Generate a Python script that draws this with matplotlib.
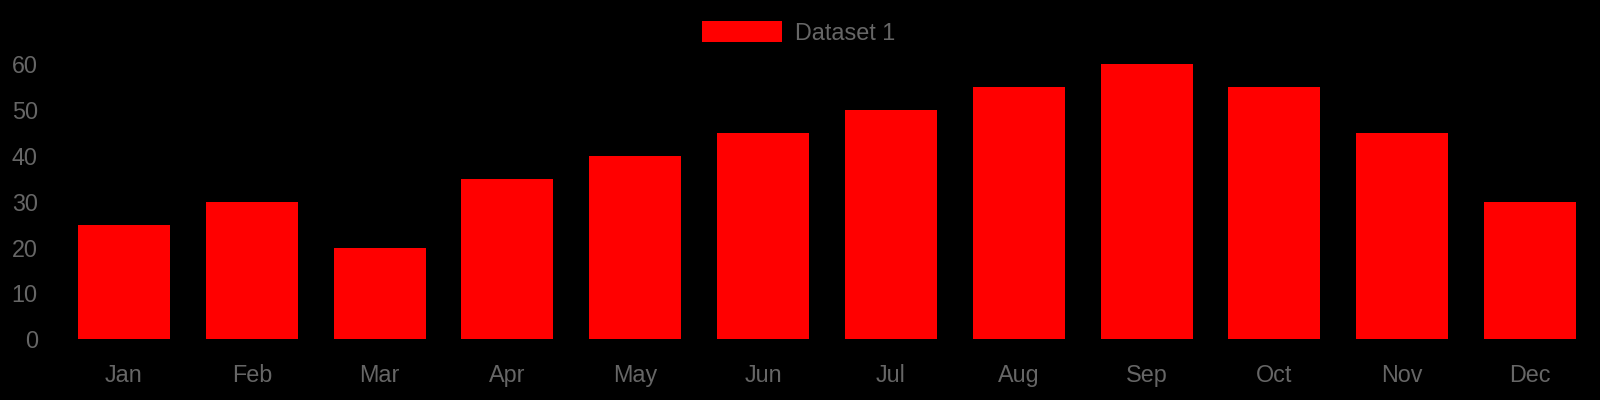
import matplotlib as mpl
mpl.use("Agg")
import matplotlib.pyplot as plt
import numpy as np

months = ["Jan", "Feb", "Mar", "Apr", "May", "Jun",
          "Jul", "Aug", "Sep", "Oct", "Nov", "Dec"]
values = [25, 30, 20, 35, 40, 45, 50, 55, 60, 55, 45, 30]
yticks = [0, 10, 20, 30, 40, 50, 60]

plt.rcParams['font.family'] = ['Liberation Sans', 'DejaVu Sans']
fs = 16.8

fig = plt.figure(figsize=(16, 4), dpi=100, facecolor="black")
ax = fig.add_axes([60/1600, 60.7/400, 1534/1600, 275.3/400])
ax.set_facecolor("black")

x = np.arange(len(months))
bars = ax.bar(x, values, width=0.72, color="#ff0000", label="Dataset 1")

ax.set_xlim(-0.5, len(months) - 0.5)
ax.set_ylim(0, 60)
ax.set_xticks(x)
ax.set_xticklabels(months)
ax.set_yticks(yticks)
ax.tick_params(axis="both", length=0, colors="#666666", labelsize=fs)
ax.tick_params(axis="x", pad=18)
ax.tick_params(axis="y", pad=16)
for s in ax.spines.values():
    s.set_visible(False)

fpx = fs * 100 / 72
fig.legend(handles=[bars], loc="center", bbox_to_anchor=(799/1600, 1 - 33/400),
           frameon=False, fontsize=fs, labelcolor="#666666",
           handlelength=80/fpx, handleheight=23/fpx, handletextpad=13/fpx,
           borderpad=0)

fig.savefig("out.png", dpi=100, facecolor="black")
